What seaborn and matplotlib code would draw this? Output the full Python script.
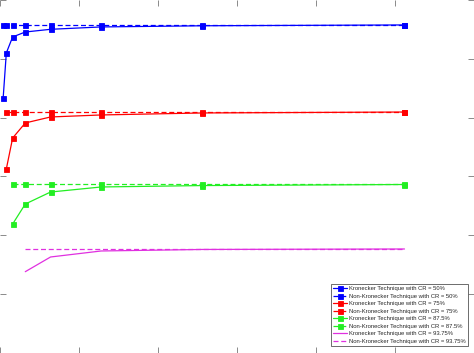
import matplotlib
matplotlib.use("Agg")
import matplotlib.pyplot as plt
import seaborn as sns
import pandas as pd

# ---- data ----
x_cr50 = [1, 2, 4, 8, 16, 32, 64, 128]
kron_cr50 = [41.67, 45.50, 46.86, 47.28, 47.51, 47.71, 47.81, 47.88]
nonkron_cr50 = [47.88, 47.88, 47.88, 47.88, 47.88, 47.88, 47.88, 47.88]

x_cr75 = [2, 4, 8, 16, 32, 64, 128]
kron_cr75 = [35.64, 38.27, 39.55, 40.06, 40.23, 40.40, 40.48]
nonkron_cr75 = [40.48, 40.48, 40.48, 40.48, 40.48, 40.48, 40.48]

x_cr875 = [4, 8, 16, 32, 64, 128]
kron_cr875 = [30.96, 32.66, 33.68, 34.11, 34.23, 34.32]
nonkron_cr875 = [34.36, 34.36, 34.36, 34.36, 34.36, 34.36]

x_cr9375 = [8, 16, 32, 64, 128]
kron_cr9375 = [26.91, 28.16, 28.67, 28.80, 28.84]
nonkron_cr9375 = [28.87, 28.87, 28.87, 28.87, 28.87]

labels = [
    "Kronecker Technique with CR = 50%",
    "Non-Kronecker Technique with CR = 50%",
    "Kronecker Technique with CR = 75%",
    "Non-Kronecker Technique with CR = 75%",
    "Kronecker Technique with CR = 87.5%",
    "Non-Kronecker Technique with CR = 87.5%",
    "Kronecker Technique with CR = 93.75%",
    "Non-Kronecker Technique with CR = 93.75%",
]

x_ticks = [0, 25, 50, 75, 100, 125, 150]
y_ticks = [20, 25, 30, 35, 40, 45, 50]

sns.set_theme(style="white")
plt.rcParams["font.family"] = ["Liberation Sans", "DejaVu Sans"]

fig = plt.figure(figsize=(4.74, 3.53), dpi=100)
ax = fig.add_axes([0, 0, 1, 1])

series = [
    (x_cr50, kron_cr50, "#0000ff", "-", "s"),
    (x_cr50, nonkron_cr50, "#0000ff", "--", "s"),
    (x_cr75, kron_cr75, "#ff0000", "-", "s"),
    (x_cr75, nonkron_cr75, "#ff0000", "--", "s"),
    (x_cr875, kron_cr875, "#22ee22", "-", "s"),
    (x_cr875, nonkron_cr875, "#22ee22", "--", "s"),
    (x_cr9375, kron_cr9375, "#e030e0", "-", None),
    (x_cr9375, nonkron_cr9375, "#e030e0", "--", None),
]

for (xs, ys, col, ls, mk), lab in zip(series, labels):
    df = pd.DataFrame({"x": xs, "y": ys})
    kw = dict(color=col, linewidth=0.9, label=lab, errorbar=None)
    if mk:
        kw.update(marker=mk, markersize=3.6, markeredgecolor=col,
                  markerfacecolor=col, markeredgewidth=0.6)
    line = sns.lineplot(data=df, x="x", y="y", ax=ax, **kw).lines[-1]
    if ls == "--":
        line.set_dashes((4, 2.2))

ax.set_xlim(0, 150)
ax.set_ylim(20, 50)
ax.set_xticks(x_ticks)
ax.set_yticks(y_ticks)
ax.set_xlabel("")
ax.set_ylabel("")
ax.tick_params(axis="both", which="both", direction="in", length=4,
               width=0.6, color="#777777", labelleft=False, labelbottom=False,
               top=True, right=True, bottom=True, left=True)
for s in ax.spines.values():
    s.set_visible(False)

leg = ax.legend(loc="lower right", bbox_to_anchor=(0.987, 0.02),
                borderaxespad=0, fontsize=4.2, frameon=True, fancybox=False,
                framealpha=1, edgecolor="#333333", handlelength=2.4,
                handletextpad=0.4, labelspacing=0.42, borderpad=0.35)
leg.get_frame().set_linewidth(0.5)

fig.savefig("out.png", dpi=100)
